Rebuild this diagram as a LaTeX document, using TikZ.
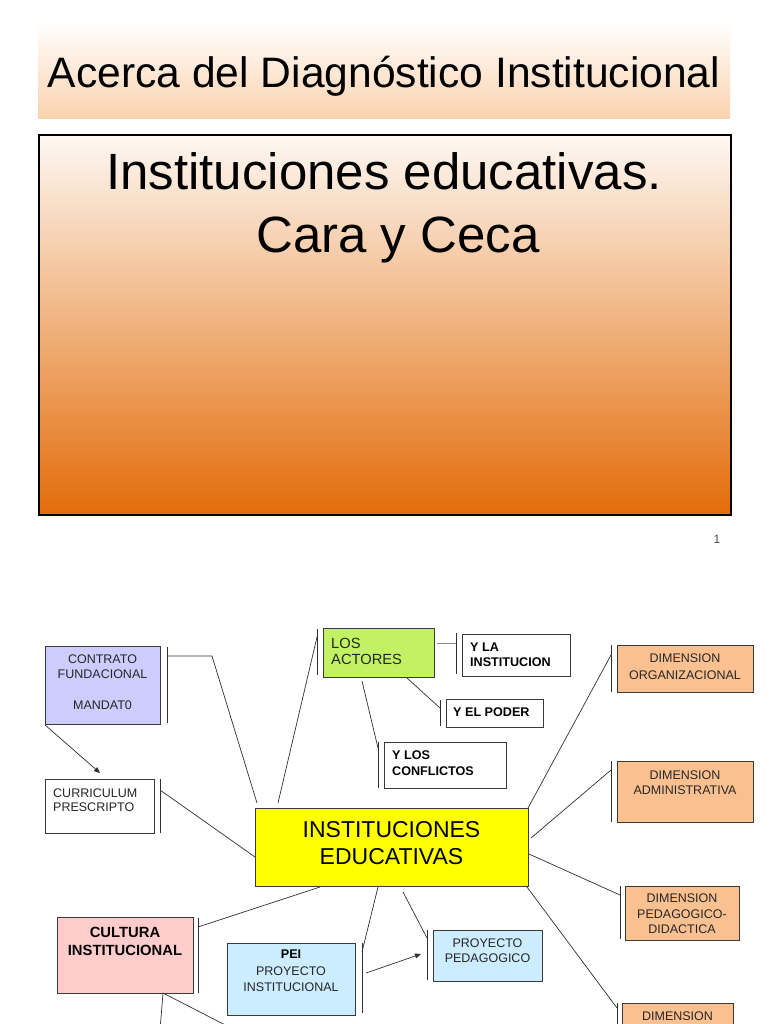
\documentclass[tikz,border=0pt]{standalone}
\usepackage{fontspec}
\setmainfont{Liberation Sans}
\usetikzlibrary{arrows.meta}
\definecolor{hdrc}{HTML}{FBD2AE}
\definecolor{ttop}{HTML}{FEF8F3}
\definecolor{tbot}{HTML}{E36C09}
\definecolor{lav}{HTML}{CCCCFF}
\definecolor{lime}{HTML}{C2F264}
\definecolor{yel}{HTML}{FFFF00}
\definecolor{dimc}{HTML}{FAC090}
\definecolor{pinkc}{HTML}{FFCCCC}
\definecolor{bluec}{HTML}{CCECFF}
\definecolor{boxln}{HTML}{3A3A3A}
\definecolor{linec}{HTML}{303030}
\definecolor{txtc}{HTML}{262626}
\begin{document}
\begin{tikzpicture}[x=1pt,y=-1pt,
  box/.style={draw=boxln, line width=0.9pt, inner sep=0, anchor=north west},
  bar/.style={draw=linec, line width=0.9pt},
  link/.style={draw=linec, line width=0.7pt},
  sm/.style={font=\fontsize{12.5}{15}\selectfont, inner sep=0, anchor=base, text=txtc},
  smb/.style={font=\bfseries\fontsize{12.6}{15}\selectfont, inner sep=0, anchor=base, text=black},
  arr/.style={link, -{Triangle[length=6pt,width=5pt]}}]
\useasboundingbox (0,0) rectangle (768,1024);
\clip (0,0) rectangle (768,1024);
\fill[white] (0,0) rectangle (768,1024);
% header band
\node[anchor=north west, minimum width=692, minimum height=96, inner sep=0, top color=white, bottom color=hdrc] (hdr) at (38,22) {};
\node[font=\fontsize{42.6}{48}\selectfont, anchor=base, inner sep=0] (hdrt) at (384,88) {Acerca del Diagnóstico Institucional};
% title box
\node[anchor=north west, minimum width=692, minimum height=380, inner sep=0, draw=black, line width=1.8pt, top color=ttop, bottom color=tbot] (tb) at (38,134) {};
\node[font=\fontsize{51}{62}\selectfont, anchor=base, inner sep=0] (tt1) at (384,190) {Instituciones educativas.};
\node[font=\fontsize{51}{62}\selectfont, anchor=base, inner sep=0] (tt2) at (398,252) {Cara y Ceca};
\node[font=\fontsize{12}{14}\selectfont, anchor=base, inner sep=0, text=black!70] (pg) at (717,543) {1};
% ---- concept map boxes
\node[box, fill=lav, minimum width=115, minimum height=78] (contrato) at (45,646) {};
\node[box, fill=white, minimum width=109, minimum height=54] (curric) at (45,779) {};
\node[box, fill=lime, minimum width=111, minimum height=49] (actores) at (323,628) {};
\node[box, fill=white, minimum width=108, minimum height=42] (ylainst) at (462,634) {};
\node[box, fill=white, minimum width=97, minimum height=28] (ypoder) at (446,699) {};
\node[box, fill=white, minimum width=122, minimum height=46] (yconf) at (384,742) {};
\node[box, fill=yel, minimum width=273, minimum height=78] (inst) at (255,808) {};
\node[box, fill=dimc, minimum width=136, minimum height=47] (dorg) at (617,645) {};
\node[box, fill=dimc, minimum width=136, minimum height=61] (dadm) at (617,761) {};
\node[box, fill=dimc, minimum width=114, minimum height=54] (dped) at (625,886) {};
\node[box, fill=dimc, minimum width=111, minimum height=40] (dfour) at (622,1003) {};
\node[box, fill=pinkc, minimum width=136, minimum height=76] (cultura) at (57,917) {};
\node[box, fill=bluec, minimum width=128, minimum height=72] (pei) at (227,943) {};
\node[box, fill=bluec, minimum width=109, minimum height=51] (ppeda) at (433,930) {};
% ---- texts
\node[sm] (c1) at (102.5,663) {CONTRATO};
\node[sm] (c2) at (102.5,678) {FUNDACIONAL};
\node[sm] (c3) at (102.5,709) {MANDAT0};
\node[sm, anchor=base west] (cu1) at (53,797) {CURRICULUM};
\node[sm, anchor=base west] (cu2) at (53,811) {PRESCRIPTO};
\node[sm, font=\fontsize{14.7}{18}\selectfont, anchor=base west] (a1) at (331,648) {LOS};
\node[sm, font=\fontsize{14.7}{18}\selectfont, anchor=base west] (a2) at (331,664) {ACTORES};
\node[smb, anchor=base west] (l1) at (470,651) {Y LA};
\node[smb, anchor=base west] (l2) at (470,666) {INSTITUCION};
\node[smb, anchor=base west] (p1) at (453,716) {Y EL PODER};
\node[smb, anchor=base west] (f1) at (392,759) {Y LOS};
\node[smb, anchor=base west] (f2) at (392,775) {CONFLICTOS};
\node[sm, font=\fontsize{23}{28}\selectfont, text=black] (i1) at (391.5,837) {INSTITUCIONES};
\node[sm, font=\fontsize{23}{28}\selectfont, text=black] (i2) at (391.5,864) {EDUCATIVAS};
\node[sm] (o1) at (685,662) {DIMENSION};
\node[sm] (o2) at (685,679) {ORGANIZACIONAL};
\node[sm] (m1) at (685,779) {DIMENSION};
\node[sm] (m2) at (685,794) {ADMINISTRATIVA};
\node[sm] (d1) at (682,902) {DIMENSION};
\node[sm] (d2) at (682,918) {PEDAGOGICO-};
\node[sm] (d3) at (682,933) {DIDACTICA};
\node[sm] (q1) at (677.5,1020) {DIMENSION};
\node[smb, font=\bfseries\fontsize{14.8}{18}\selectfont] (k1) at (125,937) {CULTURA};
\node[smb, font=\bfseries\fontsize{14.8}{18}\selectfont] (k2) at (125,955) {INSTITUCIONAL};
\node[smb] (e1) at (291,958) {PEI};
\node[sm] (e2) at (291,975) {PROYECTO};
\node[sm] (e3) at (291,991) {INSTITUCIONAL};
\node[sm] (g1) at (487.5,947) {PROYECTO};
\node[sm] (g2) at (487.5,962) {PEDAGOGICO};
% ---- bars
\coordinate (bcT) at (167,647); \coordinate (bcB) at (167,723);
\coordinate (buT) at (160,779); \coordinate (buB) at (160,833);
\coordinate (baT) at (317,629); \coordinate (baB) at (317,675);
\coordinate (blT) at (456,633); \coordinate (blB) at (456,674);
\coordinate (bpT) at (440,700); \coordinate (bpB) at (440,726);
\coordinate (bfT) at (378,742); \coordinate (bfB) at (378,788);
\coordinate (boT) at (611,645); \coordinate (boB) at (611,692);
\coordinate (bmT) at (611,761); \coordinate (bmB) at (611,822);
\coordinate (bdT) at (620,886); \coordinate (bdB) at (620,939);
\coordinate (bqT) at (617,1003); \coordinate (bqB) at (617,1030);
\coordinate (bkT) at (198,918); \coordinate (bkB) at (198,993);
\coordinate (beT) at (362,943); \coordinate (beB) at (362,1013);
\coordinate (bgT) at (427,930); \coordinate (bgB) at (427,980);
\foreach \b in {bc,bu,ba,bl,bp,bf,bo,bm,bd,bq,bk,be,bg}{\draw[bar] (\b T) -- (\b B);}
% ---- connectors
\coordinate (x1) at (167,656); \coordinate (x1b) at (212,656); \coordinate (x1c) at (257,803);
\draw[link] (x1) -- (x1b) -- (x1c);
\coordinate (x2) at (160,790); \coordinate (x2b) at (255,857);
\draw[link] (x2) -- (x2b);
\coordinate (x3) at (278,803); \coordinate (x3b) at (317,637);
\draw[link] (x3) -- (x3b);
\coordinate (x4) at (437,643); \coordinate (x4b) at (456,643);
\draw[link, draw=black!45, line width=0.9pt] (x4) -- (x4b);
\coordinate (x5) at (407,678); \coordinate (x5b) at (440,708);
\draw[link] (x5) -- (x5b);
\coordinate (x6) at (362,681); \coordinate (x6b) at (378,748);
\draw[link] (x6) -- (x6b);
\coordinate (x7) at (528,808); \coordinate (x7b) at (611,655);
\draw[link] (x7) -- (x7b);
\coordinate (x8) at (531,838); \coordinate (x8b) at (611,770);
\draw[link] (x8) -- (x8b);
\coordinate (x9) at (529,854); \coordinate (x9b) at (620,895);
\draw[link] (x9) -- (x9b);
\coordinate (x10) at (527,887); \coordinate (x10b) at (617,1008);
\draw[link] (x10) -- (x10b);
\coordinate (x11) at (320,887); \coordinate (x11b) at (198,927);
\draw[link] (x11) -- (x11b);
\coordinate (x12) at (378,887); \coordinate (x12b) at (362,952);
\draw[link] (x12) -- (x12b);
\coordinate (x13) at (403,892); \coordinate (x13b) at (427,938);
\draw[link] (x13) -- (x13b);
\coordinate (x14b) at (100,773);
\draw[arr] (contrato.south west) -- (x14b);
\coordinate (x15) at (366,973); \coordinate (x15b) at (421,954);
\draw[arr] (x15) -- (x15b);
\coordinate (x16) at (163,993); \coordinate (x16b) at (160,1030); \coordinate (x16c) at (235,1030);
\draw[link] (x16) -- (x16b);
\draw[link] (x16) -- (x16c);
\end{tikzpicture}
\end{document}
